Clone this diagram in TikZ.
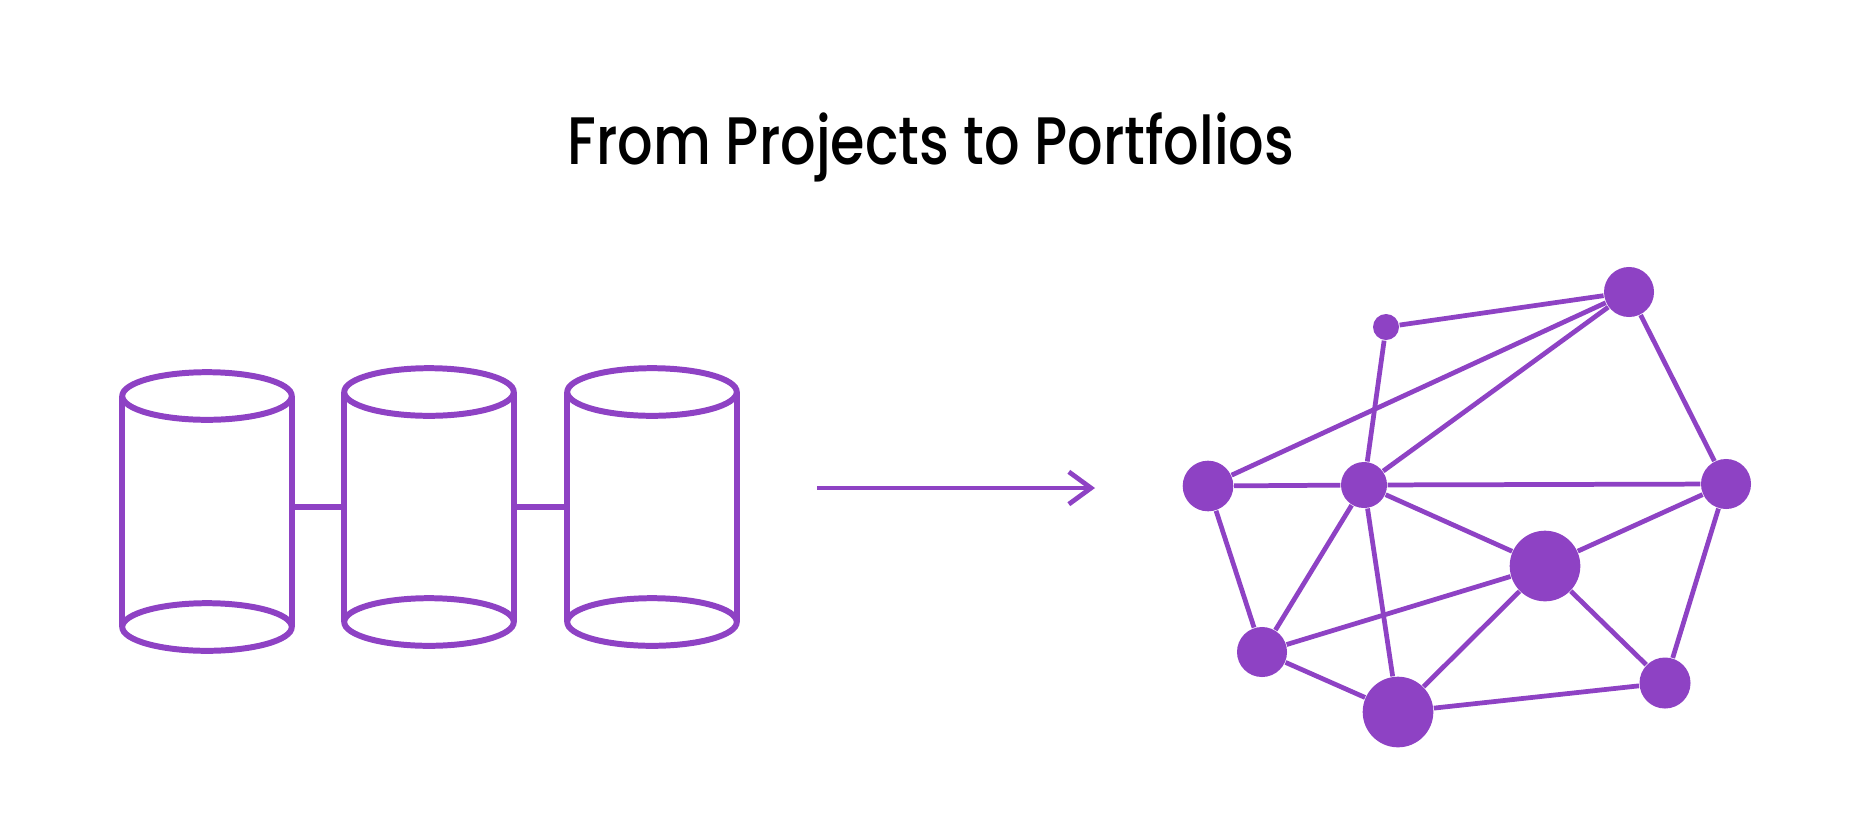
\documentclass[tikz,border=0pt]{standalone}
\usepackage{fontspec}
\newfontfamily\headfont{Poppins Medium}
\usetikzlibrary{positioning,shapes.geometric,arrows.meta}
\definecolor{grape}{RGB}{142,66,196}

\begin{document}
\begin{tikzpicture}[x=0.01cm, y=-0.01cm,
        rim/.style={ellipse, draw=grape, line width=1.7pt, inner sep=0pt, outer sep=0pt, minimum width=1.694cm, minimum height=0.476cm},
        side/.style={draw=grape, line width=1.7pt},
        dot/.style={circle, fill=grape, inner sep=0pt, minimum size=#1},
        link/.style={draw=grape, line width=1.35pt},
        heading/.style={font=\headfont\fontsize{19.1}{23}\selectfont, anchor=base, inner sep=0pt},
    ]
    \useasboundingbox (0,0) rectangle (1861,839);
    \node[heading] (title) at (931,164) {\scalebox{0.83}[1]{From Projects to Portfolios}};

    % three projects
    \node[rim] (top1) at (207,396) {};
    \node[rim] (bot1) at (207,627) {};
    \node[rim] (top2) at (429,392) {};
    \node[rim] (bot2) at (429,622) {};
    \node[rim] (top3) at (652,392) {};
    \node[rim] (bot3) at (652,622) {};

    \draw[side] (top1.west) -- (bot1.west);
    \draw[side] (top1.east) -- (bot1.east);
    \draw[side] (top2.west) -- (bot2.west);
    \draw[side] (top2.east) -- (bot2.east);
    \draw[side] (top3.west) -- (bot3.west);
    \draw[side] (top3.east) -- (bot3.east);

    \path (top1.east) -- (bot1.east) coordinate[pos=0.48] (join1);
    \path (top2.east) -- (bot2.east) coordinate[pos=0.5] (join2);
    \draw[side] (join1) -- (join1 -| top2.west);
    \draw[side] (join2) -- (join2 -| top3.west);

    % arrow
    \coordinate (from) at (817,488);
    \coordinate (to) at (1095,488);
    \draw[link, -{Straight Barb[length=6.3pt, width=9.2pt]}] (from) -- (to);

    % portfolio network
    \node[dot=0.26cm] (P1) at (1386,327) {};
    \node[dot=0.5cm] (P2) at (1629,292) {};
    \node[dot=0.506cm] (P3) at (1208,486) {};
    \node[dot=0.46cm] (P4) at (1364,485) {};
    \node[dot=0.5cm] (P5) at (1726,484) {};
    \node[dot=0.706cm] (P6) at (1545,566) {};
    \node[dot=0.5cm] (P7) at (1262,652) {};
    \node[dot=0.706cm] (P8) at (1398,712) {};
    \node[dot=0.51cm] (P9) at (1665,683) {};

    \path[link] (P1) edge (P2);
    \path[link] (P1) edge (P4);
    \path[link] (P2) edge (P3);
    \path[link] (P2) edge (P4);
    \path[link] (P2) edge (P5);

    \path[link] (P3) edge (P4);
    \path[link] (P4) edge (P5);
    \path[link] (P3) edge (P7);
    \path[link] (P4) edge (P7);
    \path[link] (P4) edge (P8);
    \path[link] (P4) edge (P6);

    \path[link] (P5) edge (P6);
    \path[link] (P5) edge (P9);
    \path[link] (P6) edge (P7);
    \path[link] (P6) edge (P8);
    \path[link] (P6) edge (P9);
    \path[link] (P7) edge (P8);
    \path[link] (P8) edge (P9);
\end{tikzpicture}
\end{document}
